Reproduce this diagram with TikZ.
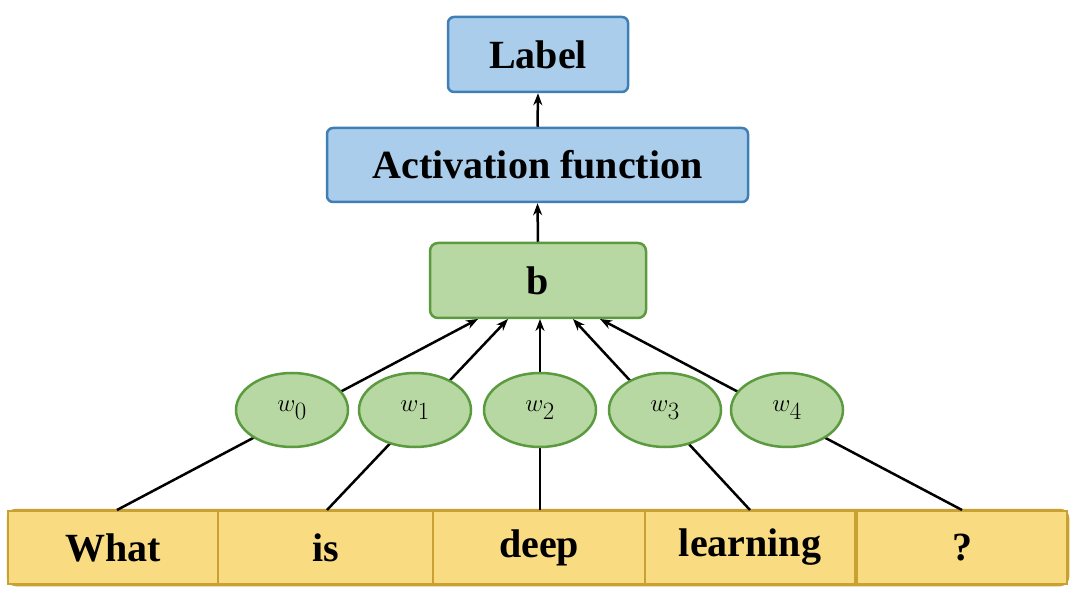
\documentclass[tikz,border=0pt]{standalone}
\usepackage{fontspec}
\setmainfont{Liberation Serif}
\usetikzlibrary{arrows.meta,shapes.geometric}
\definecolor{bfill}{HTML}{A9CDEA}\definecolor{bdraw}{HTML}{3F7FB5}
\definecolor{gfill}{HTML}{B7D8A2}\definecolor{gdraw}{HTML}{5B9A3F}
\definecolor{yfill}{HTML}{F9DC82}\definecolor{ydraw}{HTML}{C9A032}
\begin{document}
\begin{tikzpicture}[x=1pt,y=-1pt,
 tx/.style={font=\fontsize{40}{44}\selectfont\bfseries},
 blue/.style={draw=bdraw,fill=bfill,line width=2.5pt,rounded corners=6pt,tx},
 green/.style={draw=gdraw,fill=gfill,line width=2.5pt,rounded corners=8pt,tx},
 word/.style={draw=ydraw,fill=yfill,line width=2.5pt,tx,minimum height=73pt,inner sep=0pt},
 wel/.style={draw=gdraw,fill=gfill,line width=2.5pt,ellipse,minimum width=112pt,minimum height=74pt,inner sep=0pt,font=\fontsize{38}{40}\selectfont},
 arr/.style={line width=2.5pt,-{Stealth[length=12pt,width=9pt]}}]
\useasboundingbox (0,0) rectangle (1071,601);
\fill[yfill,draw=ydraw,line width=2.5pt,rounded corners=8pt] (8,510) rectangle (1068,585);
\node[word,minimum width=210pt] (t0) at (113,547.5) {What};
\node[word,minimum width=215pt] (t1) at (325.5,547.5) {is};
\node[word,minimum width=212pt] (t2) at (539,547.5) {deep};
\node[word,minimum width=210pt] (t3) at (750,547.5) {learning};
\node[word,minimum width=210pt] (t4) at (962,547.5) {?};
\node[blue,minimum width=180pt,minimum height=75pt] (lab) at (538,54.5) {Label};
\node[blue,minimum width=421pt,minimum height=74pt] (act) at (537.5,165) {Activation function};
\node[green,minimum width=216pt,minimum height=75pt] (b) at (538,280.5) {b};
\coordinate (c0) at (117,510);\coordinate (c1) at (327,510);\coordinate (c2) at (540,510);
\coordinate (c3) at (750,510);\coordinate (c4) at (962,510);
\draw[arr] (c0) -- (478,319);
\draw[arr] (c1) -- (508,319);
\draw[arr] (c2) -- (540,319);
\draw[arr] (c3) -- (573,319);
\draw[arr] (c4) -- (600,319);
\node[wel] (w0) at (292,410) {$w_0$};
\node[wel] (w1) at (415,410) {$w_1$};
\node[wel] (w2) at (540,410) {$w_2$};
\node[wel] (w3) at (665,410) {$w_3$};
\node[wel] (w4) at (787,410) {$w_4$};
\draw[arr] (b.north) -- (act.south);
\draw[arr] (act.north) -- (lab.south);
\end{tikzpicture}
\end{document}
